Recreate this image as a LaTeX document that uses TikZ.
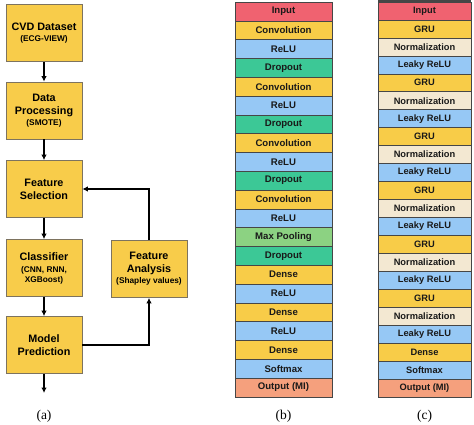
\documentclass[tikz,border=0pt]{standalone}
\usepackage{fontspec}
\setmainfont{Liberation Sans}
\newfontfamily\capfont{Liberation Serif}
\usepackage{xcolor}
\usepackage{tikz}
\usetikzlibrary{arrows.meta, positioning}

\definecolor{boxyellow}{RGB}{248,204,74}
\definecolor{boxedge}{RGB}{125,115,95}
\definecolor{layeredge}{RGB}{70,70,70}
\definecolor{inpred}{RGB}{240,98,112}
\definecolor{convyellow}{RGB}{248,204,72}
\definecolor{relublue}{RGB}{150,200,245}
\definecolor{dropteal}{RGB}{60,200,150}
\definecolor{poolgreen}{RGB}{140,210,130}
\definecolor{normcream}{RGB}{243,232,210}
\definecolor{outsalmon}{RGB}{245,160,125}

\tikzset{
    flowbox/.style={draw=boxedge, line width=0.7pt, fill=boxyellow, minimum width=76pt,
        minimum height=57pt, inner sep=1pt, align=center,
        font=\fontsize{10.8}{13}\selectfont\bfseries},
    layer/.style={draw=layeredge, line width=0.6pt, inner sep=0pt, text=black!90},
    link/.style={->, line width=1.1pt},
    caption/.style={font=\capfont\fontsize{13.5}{15}\selectfont},
}
\newcommand{\subtxt}[1]{{\fontsize{8.3}{10}\selectfont #1}}

\begin{document}
\begin{tikzpicture}[x=1pt, y=-1pt, >={Latex[length=5.5pt,width=5.5pt]}]

    \useasboundingbox (0,0) rectangle (474,424);

    % =================================================================
    % 1. PANEL (a): PIPELINE BOXES
    % =================================================================
    \node[flowbox] (dataset)  at (44,33)    {CVD Dataset\\[-2pt]\subtxt{(ECG-VIEW)}};
    \node[flowbox] (process)  at (44,110.5) {Data\\Processing\\[-2pt]\subtxt{(SMOTE)}};
    \node[flowbox] (select)   at (44,189)   {Feature\\Selection};
    \node[flowbox] (classify) at (44,268)   {Classifier\\[-1pt]\subtxt{(CNN, RNN,}\\[-3pt]\subtxt{XGBoost)}};
    \node[flowbox] (predict)  at (44,345)   {Model\\Prediction};
    \node[flowbox] (analysis) at (149,269)  {Feature\\Analysis\\[-2pt]\subtxt{(Shapley values)}};

    % Free end of the last arrow
    \coordinate (exit) at (44,393);

    % =================================================================
    % 2. PANEL (a): ARROWS
    % =================================================================
    \draw[link] (dataset) -- (process);
    \draw[link] (process) -- (select);
    \draw[link] (select) -- (classify);
    \draw[link] (classify) -- (predict);
    \draw[link] (predict) -- (exit);

    % Feedback loop through the feature analysis
    \draw[link] (predict.east) -| (analysis.south);
    \draw[link] (analysis.north) |- (select.east);

    % =================================================================
    % 3. PANEL (b): CNN LAYER STACK
    % =================================================================
    \foreach \txt/\col [count=\i] in {Input/inpred, Convolution/convyellow, ReLU/relublue,
            Dropout/dropteal, Convolution/convyellow, ReLU/relublue, Dropout/dropteal,
            Convolution/convyellow, ReLU/relublue, Dropout/dropteal, Convolution/convyellow,
            ReLU/relublue, Max Pooling/poolgreen, Dropout/dropteal, Dense/convyellow,
            ReLU/relublue, Dense/convyellow, ReLU/relublue, Dense/convyellow,
            Softmax/relublue, Output (MI)/outsalmon}
        \node[layer, fill=\col, minimum width=97pt, minimum height=18.8pt,
              font=\fontsize{9.6}{11}\selectfont\bfseries]
            (cnn\i) at (283.5,{2+18.8*(\i-0.5)}) {\txt};

    % =================================================================
    % 4. PANEL (c): GRU LAYER STACK
    % =================================================================
    \foreach \txt/\col [count=\i] in {Input/inpred,
            GRU/convyellow, Normalization/normcream, Leaky ReLU/relublue,
            GRU/convyellow, Normalization/normcream, Leaky ReLU/relublue,
            GRU/convyellow, Normalization/normcream, Leaky ReLU/relublue,
            GRU/convyellow, Normalization/normcream, Leaky ReLU/relublue,
            GRU/convyellow, Normalization/normcream, Leaky ReLU/relublue,
            GRU/convyellow, Normalization/normcream, Leaky ReLU/relublue,
            Dense/convyellow, Softmax/relublue, Output (MI)/outsalmon}
        \node[layer, fill=\col, minimum width=93pt, minimum height=17.95pt,
              font=\fontsize{9.3}{11}\selectfont\bfseries]
            (gru\i) at (424.5,{2+17.95*(\i-0.5)}) {\txt};

    % Dark strip on top of the stack
    \fill[layeredge] (gru1.north west) rectangle ([yshift=2pt]gru1.north east);

    % =================================================================
    % 5. PANEL CAPTIONS
    % =================================================================
    \node[caption] (capa) at (44,416)    {(a)};
    \node[caption] (capb) at (283.5,416) {(b)};
    \node[caption] (capc) at (424.5,416) {(c)};

\end{tikzpicture}
\end{document}
